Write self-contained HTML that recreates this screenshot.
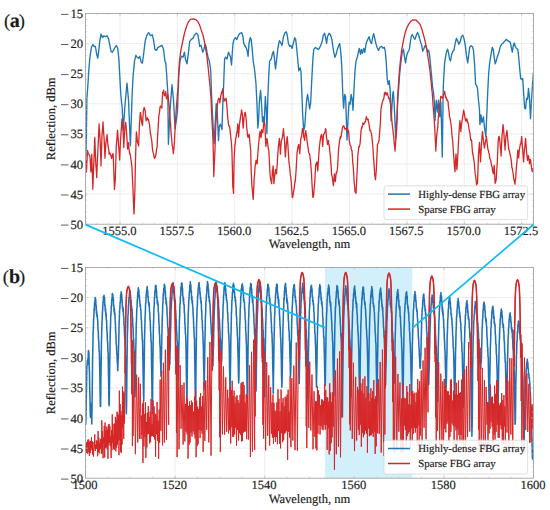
<!DOCTYPE html><html><head><meta charset="utf-8"><style>html,body{margin:0;padding:0;background:#fff;}svg{display:block;}</style></head><body>
<svg width="550" height="510" viewBox="0 0 550 510" font-family='&quot;Liberation Serif&quot;, serif'>
<style>text{stroke:#1a1a1a;stroke-width:0.16px;paint-order:stroke;text-rendering:geometricPrecision;}</style>
<rect width="550" height="510" fill="#fff"/>
<defs><clipPath id="ca"><rect x="85.5" y="13.5" width="448.0" height="210.7"/></clipPath></defs>
<path d="M120 13.5V224.2M177.38 13.5V224.2M234.75 13.5V224.2M292.12 13.5V224.2M349.5 13.5V224.2M406.88 13.5V224.2M464.25 13.5V224.2M521.62 13.5V224.2M85.5 43.6H533.5M85.5 73.7H533.5M85.5 103.8H533.5M85.5 133.9H533.5M85.5 164H533.5M85.5 194.1H533.5" stroke="#e9e9e9" stroke-width="0.8" fill="none"/>
<g clip-path="url(#ca)" fill="none" stroke-linejoin="round" stroke-linecap="round"><polyline points="85.8,158 86.3,140 86.9,98.4 87.9,84.7 88.9,69 89.9,57.3 91.4,47.5 92.8,44.5 94.2,46.5 95.4,46.5 96.7,54.3 97.7,58.2 98.7,51.4 99.7,41.6 101,34.1 102.6,37.6 104,35.7 105.5,36.7 107.1,35.7 108.5,38.6 109.5,43.5 111,51.4 112.4,52.3 113.4,50.4 115,47.5 116.3,45.5 117.7,48.4 118.9,59.2 119.7,74.9 120.8,94.5 122.2,108.2 123.3,130.2 125,105 127,83.1 128.5,100 130.4,145.9 132,98.4 133,76.9 134.5,61.2 135.9,55.3 137.3,57.3 138.8,58.2 139.8,56.3 141.2,62.2 142.4,63.1 143.7,53.3 145.1,41.6 146.7,35.7 148.6,32.7 150.6,35.7 152.2,34.7 153.5,39.6 154.9,49.4 156.5,50.4 158,47.3 160,46.3 161.9,45.3 163.5,49.2 164.9,61 165.8,62.9 166.8,76.7 167.8,92.4 168.4,144.3 170,110 172,84.7 173.5,100 175.1,128.6 177.5,111.4 178.6,76.7 180,61 181.5,56.1 183.1,57.1 184.4,52.2 185.4,59 187,63.9 188.4,53.1 189.7,41.4 191.3,39.4 192.9,38.4 194.2,35.5 196.2,33.1 197.8,34.5 198.7,39.4 199.7,46.3 201.1,45.3 202.7,52.2 204,49.2 205,44.3 206,46.3 207,52.2 208,57.1 209.3,61 210.7,70 211.5,93.5 212.6,117 214.1,143.7 215.1,124.9 216.2,103.7 217,107.6 218.5,140.6 219.3,126.5 220.4,124.1 222,129.6 222.9,101.4 223.6,85.7 224.6,59 225.6,57.1 227,59 228.5,52.2 230.5,57.1 231.5,65 232.5,50 233,43.5 234,39.6 235.5,37.6 236.9,39.6 238.3,35.7 239.8,33.3 241.8,32.7 242.8,35.7 243.8,43.5 244.7,45.5 246.1,47.5 247.3,51.4 248.1,56.3 249,43.5 250.2,37.6 251.2,39.6 252.2,49.4 253.2,61.2 254.6,70 255.9,82.5 257,104.5 257.8,128 258.6,120.2 259.4,101.4 260.6,90.4 261.7,106.1 262.5,121.8 263.4,117 264.2,124 265.3,96.5 266.3,110.2 266.9,133.6 267.8,98.4 268.6,78.8 269.6,61.2 271.2,59.2 272.5,53.3 273.5,51.4 274.5,59.2 275.5,69 276.7,59.2 278,47.5 279.4,40.6 280.6,42.5 282,45.5 283.3,37.6 284.9,32.7 286.3,31.8 287.2,34.7 288.4,43.5 289.8,46.5 290.8,45.5 292.1,48.4 293.3,43.5 294.7,37.6 295.7,39.6 296.6,47.5 297.8,60 298.8,70.8 300.2,67.8 301,71.8 301.8,91.4 302.7,114.9 303.7,130.6 304.7,126.7 305.7,113 306.7,99.2 307.6,94.3 308.6,101.2 309.6,109 310.6,103.1 311.6,83.5 312.5,65.9 313.1,56 313.8,49.4 315.4,47.5 316.8,48.4 318.1,49.4 319.3,48.4 320.7,45.5 322.1,41.6 323.2,35.7 324.6,33.3 325.6,37.6 326.6,43.5 327.5,36.7 329.1,33.3 330.5,34.7 331.9,39.6 333,47.5 334,53.3 335,57.3 336.4,53.3 337.3,49.4 338.7,45.5 339.7,43.5 340.7,51.4 341.7,65.1 342.2,78.8 342.8,94.5 343.6,108.2 344.6,94.5 345.6,96.5 347,140 348.5,110 349.1,102.4 350.1,104.3 351.1,94.5 352,98.4 353,110.2 354,88.6 355,71 356,61.2 357.3,57.3 358.5,51.4 359.3,48.4 360.5,54.3 361.4,49.4 362.4,53.3 363.8,48.4 364.8,52.4 366.1,43.5 367.7,39.6 369.1,36.7 370.3,41.6 371.6,43.5 372.6,37.6 373.6,33.7 374.6,37.6 375.9,43.5 377.1,47.5 378.5,50.4 380,47.3 381.6,46.3 382.9,48.2 384.3,47.3 385.3,51.2 386.3,62.9 387.2,78.6 388.2,84.5 389.2,80.6 390.2,90.4 391.1,120.7 392.7,94.3 393.3,91.4 394.1,102.2 395.7,138.3 397.5,105 399.6,74.7 400.6,64.9 401.5,57.1 402.5,51.2 403.5,49.2 404.5,57.1 405.5,62.9 406.4,57.1 407.4,53.1 408.4,51.2 409.4,49.2 410.4,41.4 411.3,36.5 412.3,34.5 413.7,37.5 414.9,39.4 416.2,35.5 417.6,32.5 418.8,35.5 419.8,39.4 420.7,42.4 421.7,45.3 422.7,51.2 423.7,49.2 424.7,46.3 425.6,45.3 426.6,48.2 427.6,52.2 428.6,50.2 429.6,55.1 430.5,64.9 431.5,74.7 432.5,86.5 433.5,92.4 434.5,104.1 435,120.7 436.3,100.2 437.5,112 438.5,100.2 439.8,116.8 440.9,102 442.3,157 443.2,88.4 443.9,74.7 444.6,62.9 446.2,53.1 447.6,49.2 448.6,53.1 449.5,59 450.5,61 451.5,55.1 452.9,51.2 454,50.2 455,44.3 456.4,38.4 457.5,40.4 458.9,44.3 460.3,41.4 461.5,36.5 462.8,35.1 464.2,39.4 465.4,46.3 466.4,55.1 467.7,62.9 468.7,55.1 469.7,47.3 471.1,45.7 472.6,46.9 473.6,51.2 474.6,64.9 475.6,84.5 476.6,85.5 477.5,88.4 478.5,100.2 479.5,110 479.9,124.6 481,114.8 482,122.6 483.4,116.8 484.4,126.6 485.8,136.4 487,110 487.7,92.4 488.7,72.7 489.7,62.9 490.9,55.1 492.3,47.3 493.2,49.2 494.2,57.1 495.2,63.9 496.2,61 497.2,57.1 498.7,53.1 500.1,47.3 501.5,44.3 503,43.3 504.6,41.4 506,39.4 507.4,40.4 508.9,41.4 510.3,42.4 511.3,47.3 512.3,52.2 513.2,46.3 514.2,42.9 515.2,46.3 516.4,48.2 517.8,49.2 518.7,57.1 519.7,68.8 520.7,78.6 521.7,79.6 522.7,78.6 523.6,92.4 524.6,108 525.6,108.9 526.6,98.2 527.6,99.2 528.5,88.4 529.5,98.2 530.5,118.7 531.5,100.2 532.5,84.5 533.4,72.7" stroke="#1f77b4" stroke-width="1.35"/><polyline points="85.6,159.44 85.6,160 86.4,171.9 86.5,170.69 87.4,153.21 87.5,150.3 88.3,153.76 88.9,154.2 89.2,155.07 89.9,156.2 90.1,158.53 90.9,171.9 91,171.14 91.8,154.2 91.9,158.02 92.8,187.5 92.8,189.35 93.7,165.84 93.8,164 94.6,141.45 94.8,137.5 95.5,157.4 95.8,164 96.4,171.14 96.7,177.7 97.3,162.24 97.7,154.2 98.2,143.78 99.1,123.8 99.1,124.56 100,137.84 100.1,140.5 100.9,161.3 101,166 101.8,141.1 102,134.6 102.7,126.83 103,121.9 103.6,132.69 104,136.6 104.5,146.59 105,158.1 105.4,150.39 105.9,142.5 106.3,140.69 107.1,134.6 107.2,136.92 108.1,146.4 108.1,145.55 109,151.86 109.1,154.2 109.9,152.76 110,153.7 110.8,155.05 111.6,158.4 111.7,158.14 112.6,154.04 113.1,153.7 113.5,162.4 114.4,187.5 114.4,189.36 115.3,179.7 115.3,180.13 116.2,147.35 116.3,145.9 117.1,136.29 117.5,130.2 118,136.06 118.6,145.9 118.9,149.33 119.7,160 119.8,157.65 120.5,139.6 120.7,137.62 121.6,125.42 121.9,119.2 122.5,122.94 122.9,127.1 123.4,136.59 123.8,147.5 124.3,137.03 124.9,127.1 125.2,124.66 125.7,122.4 126.1,125.97 126.5,131.8 127,139.31 127.6,149 127.9,146.61 128.5,142.7 128.8,147.46 129.3,150.6 129.7,153.95 130.1,153.7 130.6,156.95 131,160 131.5,163.4 132,167.9 132.4,178.08 133,189.5 133.3,197.65 134,214 134.2,210.11 134.9,189.5 135.1,179.36 135.5,160 136,142.42 136.4,131.8 136.9,135.95 137.5,142.7 137.8,142.38 138.6,145.9 138.7,143.94 139.5,123.9 139.6,122.89 140.3,112.9 140.5,112.49 141.4,119.2 141.4,120.41 142.3,125.08 142.5,125.5 143.2,112.82 143.3,111.4 144.1,107.69 144.2,107.5 145,110.21 145.3,111.4 145.9,119.18 146.1,120.8 146.8,118.71 147.2,117.6 147.7,119.82 148.5,119.2 148.6,120.28 149.5,124.38 149.6,125.5 150.4,133.54 150.5,133.3 151.3,138.2 151.6,139.6 152.2,145.4 152.4,149 153.1,152.4 153.6,153.7 154,156.99 154.7,158.4 154.9,157.68 155.8,155.3 155.8,155.62 156.7,148.2 157.1,147.5 157.6,135.91 157.9,131.8 158.5,121.39 159,114.5 159.4,113.5 159.9,108.2 160.3,106.08 161,106.7 161.2,106.35 161.8,108.2 162.1,102.94 162.6,92.5 163,93.24 163.7,90.2 163.9,93.26 164.6,95.7 164.8,95.83 165.7,93.3 165.7,91.48 166.5,98.8 166.6,98.2 167.5,96.78 167.8,94.1 168.4,98.45 168.9,103.5 169.3,106.56 170.2,121.58 170.4,122.4 171.1,132.84 172,142.7 172,143.61 172.9,148.98 173.3,153.7 173.8,149.57 174.4,142.7 174.7,135.73 175.6,120.8 175.6,119.8 176.5,104.74 176.7,103.5 177.4,94.84 178.3,86.3 178.3,87.85 178.6,74.7 179.3,63.5 180,56.5 181.1,49.2 182.5,42.3 184.4,33.5 186.4,26.7 188.4,21.8 190.3,19.4 193.3,18.8 196.2,19.8 198.2,22.2 199.5,24.7 201.1,29.6 203.1,35.5 205,44.3 207,57.1 208.5,70.8 209.8,84.51 209.9,84.5 210.7,95.03 211,98 211.6,112.69 212,121.8 212.5,130.07 213,140.6 213.4,156.95 213.8,176.6 214.3,164.31 214.8,154 215.2,143.67 215.8,124.6 216.1,121.1 216.7,113.9 217,108.77 217.8,101.4 217.9,100.24 218.8,98.3 218.9,98.2 219.7,101.08 219.8,102.9 220.6,98.2 220.6,96.63 221.5,93.09 221.7,92 222.4,90.7 222.5,88.8 223.3,95.1 223.3,94.03 224,101.4 224.2,100.7 225.1,99 225.1,100.19 226,98.54 226.1,98.2 226.9,106.1 226.9,106.62 227.6,115.5 227.8,118.31 228.4,123.3 228.7,125.76 229.2,126.5 229.6,126.26 230,129.6 230.5,134.82 230.8,137.5 231.4,142.67 231.9,150 232.3,165.26 232.8,187.4 233.2,189.03 233.5,193.4 234,164 234.1,160.52 234.9,144.4 235,145.32 235.9,137.33 236.1,137.5 236.8,132.23 237.1,132.7 237.7,124.9 237.7,123.92 238.6,135.9 238.6,136.98 239.4,124.9 239.5,124.3 240.4,117.9 240.5,117 241.3,112.55 241.6,110 242.2,113.38 242.4,115.5 243.1,127.6 243.2,128 244,118.19 244.1,117 244.9,112.89 245.2,112.4 245.8,115.7 246.3,120.2 246.7,127.13 247.3,132.7 247.6,135.65 248.1,137.5 248.5,136.56 249.2,134.3 249.4,136.61 249.9,142.2 250.3,146.53 250.7,150 251.2,171.9 251.2,170 252,187.5 252.1,186.82 253,197.93 253.2,199.3 253.9,184.75 254.1,179.7 254.8,171.67 255.1,166 255.7,162.92 256.1,160.1 256.6,163.02 257.1,164 257.5,158.78 258.1,150.3 258.4,146.58 259.3,136.83 259.4,135.9 260.1,131.2 260.2,133.8 260.9,137.5 261.1,137.26 261.7,129.6 262,131.98 262.8,132.7 262.9,132.15 263.8,123.17 264.1,121.8 264.7,123.25 265,126.5 265.6,141.41 265.9,146.4 266.5,140.07 266.9,138.5 267.4,141.2 267.8,144.4 268.3,148.6 268.8,150.3 269.2,156.97 269.8,169.9 270.1,174.76 270.6,179.7 271,180.21 271.6,183.6 271.9,180.17 272.5,169.9 272.8,168.8 273.1,166 273.7,178.34 273.9,183.6 274.6,176.12 274.7,175.8 275.5,169.9 275.5,169.35 276.4,173.72 276.5,173.8 277.3,163.25 277.4,160.1 278.2,149.32 278.4,146.4 279.1,140.54 279.4,138.5 280,147.48 280.4,154.2 280.9,146.05 281.4,140.5 281.8,139.76 282.5,136.6 282.7,135 283.5,128.7 283.6,131.46 284.5,140.5 284.5,140.56 285.3,156.2 285.4,156.84 286.3,144.4 286.3,144.16 287.2,136.6 287.2,136.66 288.1,147.66 288.2,150.3 289,162.42 289.2,164 289.9,168.97 290.2,173.8 290.8,177.26 291.2,181.7 291.7,188.1 292.3,197.4 292.6,197.56 293.3,193.4 293.5,192.66 294.3,187.5 294.4,185.95 295.3,179.7 295.3,181.36 296.2,168.7 296.3,166 296.9,156 297.1,152.12 297.5,150 298,146.78 298.8,144.3 298.9,145.88 299.8,153.68 299.8,152.2 300.7,140.75 300.8,138.4 301.6,136.82 301.8,134.5 302.5,128.41 302.7,128.6 303.4,132.16 303.7,136.5 304.3,138.6 304.7,140.4 305.2,133.75 305.7,130.6 306.1,133.61 306.7,136.5 307,140.76 307.6,144.3 307.9,146.35 308.6,152.2 308.8,152.9 309.6,154.1 309.7,154.57 310.6,161.91 310.9,166 311.5,173.89 311.9,181.7 312.4,190.41 312.9,197.4 313.3,197.24 313.8,193.4 314.2,188.18 314.8,181.7 315.1,174.93 315.8,164 316,164.94 316.8,162.1 316.9,161.93 317.8,170.97 317.8,169.9 318.7,156.81 318.7,156.2 319.6,144.82 319.7,144.4 320.5,138.21 320.7,136.6 321.4,134.68 321.7,134.6 322.3,140.18 322.7,146.4 323.2,138.74 323.6,134.6 324.1,133.89 324.6,132.6 325,132.16 325.6,128.7 325.9,130 326.6,138.5 326.8,138.61 327.5,144.4 327.7,141.67 328.5,140.5 328.6,143.22 329.5,146.73 329.5,148.3 330.4,156.64 330.5,158.1 331.3,168.88 331.5,173.8 332.2,176.84 332.4,177.7 333.1,183.76 333.4,185.6 334,178.62 334.4,173.8 334.9,178.46 335.4,181.7 335.8,176.64 336.4,171.9 336.7,172.89 337.3,169.9 337.6,166.26 338.3,154.2 338.5,150.62 339.3,142.5 339.4,141.91 340.3,136.58 340.3,138.5 341.2,136.31 341.3,134.6 342.1,130.94 342.2,128.7 343,126.48 343.2,125.8 343.9,125.94 344.2,126.8 344.8,129.14 345.2,128.7 345.7,128.62 346.2,129.7 346.6,127.58 347.5,129.36 347.5,128.7 348.4,131.25 348.7,132.6 349.3,140.49 349.9,144.4 350.2,145.43 351.1,146.76 351.1,148.3 352,151.44 352,150.3 352.9,164.47 353,164 353.8,175.04 354,179.7 354.7,187.24 355,191.5 355.6,192.58 356,193.4 356.5,184.45 356.9,175.8 357.4,165.81 357.9,154.2 358.3,151.58 358.9,146.4 359.2,147.26 359.9,144.4 360.1,143.17 360.8,134.6 361,131.13 361.8,126.8 361.9,128.28 362.8,124.11 362.8,122.8 363.7,124.4 363.8,123.8 364.6,123.42 364.8,121.9 365.5,121.65 365.7,119.9 366.4,116.7 366.7,117.9 367.3,119.57 368.2,119.28 368.3,120.9 369.1,124.39 369.7,128.7 370,130.65 370.6,130.7 370.9,132.06 371.6,134.6 371.8,135.76 372.6,144.4 372.7,144.54 373.6,158.01 373.6,158.1 374.5,170.65 374.6,173.8 375.4,178.58 375.5,179.7 376.3,170.17 376.5,166 377.2,150.36 377.5,144.4 378.1,143.33 378.5,142.5 379,140.35 379.5,134.6 379.9,128.81 380.4,122.8 380.8,112.65 381,108.9 381.7,105.36 382.6,101.13 382.9,100.2 383.5,99.94 384.3,95.3 384.4,93.19 385.3,92.24 385.5,93.3 386.2,94.93 386.9,94.3 387.1,92.62 388,95.74 388.2,96.3 388.9,98.79 389.8,98.43 389.8,100.2 390.7,104.78 390.8,106.1 391.6,116.9 391.8,120.7 392.5,126.53 393.4,134.41 393.7,136.4 394.3,143.75 395.1,151.1 395.2,148.1 396.1,136.16 396.3,134.4 397,123.22 397.2,118.7 397.6,96.3 397.9,93.65 398.6,82.5 398.8,79.05 399.6,68.8 400.6,59 401.5,51.2 402.5,45.3 403.5,40.4 404.5,35.5 405.5,31.6 407,27.6 408.4,24.7 410.4,21.8 412.3,20.2 414.3,19.8 416.2,20.2 418.2,22.2 420.2,24.7 421.7,28.6 423.1,33.5 424.7,39.4 426,45.3 427.4,53.1 428.6,61 430,70.8 430.9,80.6 431.2,81.77 431.9,90.4 432.1,91.31 432.9,102.2 433,104.77 433.9,114.73 434.5,124.6 434.8,129.57 435.7,147.82 435.8,151.1 436.6,137.4 436.8,134.4 437.5,129.51 437.8,126.6 438.4,116.87 438.8,112.8 439.3,107.85 439.7,104.1 440.2,101.91 440.7,96.3 441.1,96.76 442,97.8 442.3,98.2 442.9,97.46 443.7,94.3 443.8,94.2 444.6,91.4 444.7,91.66 445.6,97.67 445.6,96.3 446.5,98.37 446.6,100.2 447.4,100.02 448.2,102.2 448.3,105.28 449.2,112.49 449.5,116.8 450.1,118.62 451,124.23 451.5,128.5 451.9,134.76 452.8,141.82 452.9,144.2 453.7,155.75 454,159.9 454.6,167.92 455,171.7 455.5,160.95 456,154 456.4,160.11 456.9,169.7 457.3,164.36 457.9,154 458.2,147.22 458.9,134.4 459.1,131.08 459.9,120.7 460,121.92 460.9,131.71 460.9,130.5 461.8,121.86 461.8,122.6 462.7,116.03 462.8,116.8 463.6,110.19 463.8,110.9 464.5,114.13 464.8,116.8 465.4,119.81 465.8,120.7 466.3,121.35 466.8,118.7 467.2,120.45 467.7,122.6 468.1,122.79 468.7,126.6 469,128.85 469.7,132.5 469.9,132.45 470.7,140.3 470.8,139.02 471.7,140.86 471.7,142.3 472.6,153.81 472.6,152.1 473.5,157.8 473.6,157.9 474.4,163.77 474.6,167.7 475.3,174.95 475.6,175.6 476.2,181.04 476.6,185.4 477.1,182.95 477.5,183.4 478,169.41 478.5,154 478.9,149.37 479.5,142.3 479.8,148.69 480.5,161.9 480.7,158.12 481.5,144.2 481.6,141.78 482.4,132.5 482.5,131.3 483.4,140.94 483.4,140.3 484.3,147.25 484.4,148.1 485.2,143.17 485.4,142.3 486.1,138.65 486.4,136.4 487,141.6 487.3,144.2 487.9,149.41 488.3,150.1 488.8,152.97 489.3,154 489.7,158.07 490.3,159.9 490.6,160 491.3,163.8 491.5,165.07 492.3,167.7 492.4,169.98 493.2,173.6 493.3,173.89 494.2,165.36 494.2,165.8 495.1,182.6 495.2,183.4 496,180.62 496.2,179.5 496.9,167.7 497.2,163.8 497.8,150.42 498.1,142.3 498.7,137.16 499.1,136.4 499.6,138.69 500.1,144.2 500.5,147.7 501.1,156 501.4,148.12 502.1,134.4 502.3,133.71 503,124.6 503.2,125.48 504,134.4 504.1,137.86 505,148.28 505,150.1 505.9,136.07 506,136.4 506.8,131.36 507,130.5 507.7,138.61 507.9,140.3 508.6,147.69 508.9,150.1 509.5,150.89 509.9,154 510.4,156.07 510.9,157.9 511.3,160.55 511.9,167.7 512.2,168 512.8,171.7 513.1,173.03 513.8,179.5 514,179.36 514.8,183.4 514.9,184.09 515.8,176.81 515.8,175.6 516.7,163.6 516.8,163.8 517.6,153.58 517.8,150.1 518.5,155.09 518.7,157.9 519.4,149.11 519.7,148.1 520.3,144.02 520.7,144.2 521.2,141.31 521.7,136.4 522.1,142.59 522.7,150.1 523,154.15 523.6,161.9 523.9,156.28 524.6,148.1 524.8,147.34 525.6,138.3 525.7,139.72 526.6,152.4 526.6,152.1 527.5,160.39 527.6,159.9 528.4,155.64 528.5,156 529.3,161.49 529.5,163.8 530.2,159.48 530.5,159.9 531.1,163.92 531.5,167.7 532,170.95 532.5,171.7 532.9,168.69" stroke="#d62728" stroke-width="1.3"/></g>
<path d="M85.58 13.5v1.6M85.58 224.2v-1.6M97.05 13.5v1.6M97.05 224.2v-1.6M108.53 13.5v1.6M108.53 224.2v-1.6M120 13.5v1.6M120 224.2v-1.6M131.47 13.5v1.6M131.47 224.2v-1.6M142.95 13.5v1.6M142.95 224.2v-1.6M154.43 13.5v1.6M154.43 224.2v-1.6M165.9 13.5v1.6M165.9 224.2v-1.6M177.38 13.5v1.6M177.38 224.2v-1.6M188.85 13.5v1.6M188.85 224.2v-1.6M200.32 13.5v1.6M200.32 224.2v-1.6M211.8 13.5v1.6M211.8 224.2v-1.6M223.27 13.5v1.6M223.27 224.2v-1.6M234.75 13.5v1.6M234.75 224.2v-1.6M246.22 13.5v1.6M246.22 224.2v-1.6M257.7 13.5v1.6M257.7 224.2v-1.6M269.17 13.5v1.6M269.17 224.2v-1.6M280.65 13.5v1.6M280.65 224.2v-1.6M292.12 13.5v1.6M292.12 224.2v-1.6M303.6 13.5v1.6M303.6 224.2v-1.6M315.07 13.5v1.6M315.07 224.2v-1.6M326.55 13.5v1.6M326.55 224.2v-1.6M338.02 13.5v1.6M338.02 224.2v-1.6M349.5 13.5v1.6M349.5 224.2v-1.6M360.98 13.5v1.6M360.98 224.2v-1.6M372.45 13.5v1.6M372.45 224.2v-1.6M383.93 13.5v1.6M383.93 224.2v-1.6M395.4 13.5v1.6M395.4 224.2v-1.6M406.88 13.5v1.6M406.88 224.2v-1.6M418.35 13.5v1.6M418.35 224.2v-1.6M429.82 13.5v1.6M429.82 224.2v-1.6M441.3 13.5v1.6M441.3 224.2v-1.6M452.77 13.5v1.6M452.77 224.2v-1.6M464.25 13.5v1.6M464.25 224.2v-1.6M475.72 13.5v1.6M475.72 224.2v-1.6M487.2 13.5v1.6M487.2 224.2v-1.6M498.68 13.5v1.6M498.68 224.2v-1.6M510.15 13.5v1.6M510.15 224.2v-1.6M521.62 13.5v1.6M521.62 224.2v-1.6M533.1 13.5v1.6M533.1 224.2v-1.6M120 13.5v2.6M120 224.2v-2.6M177.38 13.5v2.6M177.38 224.2v-2.6M234.75 13.5v2.6M234.75 224.2v-2.6M292.12 13.5v2.6M292.12 224.2v-2.6M349.5 13.5v2.6M349.5 224.2v-2.6M406.88 13.5v2.6M406.88 224.2v-2.6M464.25 13.5v2.6M464.25 224.2v-2.6M521.62 13.5v2.6M521.62 224.2v-2.6M85.5 19.52h1.6M533.5 19.52h-1.6M85.5 25.54h1.6M533.5 25.54h-1.6M85.5 31.56h1.6M533.5 31.56h-1.6M85.5 37.58h1.6M533.5 37.58h-1.6M85.5 43.6h2.6M533.5 43.6h-2.6M85.5 49.62h1.6M533.5 49.62h-1.6M85.5 55.64h1.6M533.5 55.64h-1.6M85.5 61.66h1.6M533.5 61.66h-1.6M85.5 67.68h1.6M533.5 67.68h-1.6M85.5 73.7h2.6M533.5 73.7h-2.6M85.5 79.72h1.6M533.5 79.72h-1.6M85.5 85.74h1.6M533.5 85.74h-1.6M85.5 91.76h1.6M533.5 91.76h-1.6M85.5 97.78h1.6M533.5 97.78h-1.6M85.5 103.8h2.6M533.5 103.8h-2.6M85.5 109.82h1.6M533.5 109.82h-1.6M85.5 115.84h1.6M533.5 115.84h-1.6M85.5 121.86h1.6M533.5 121.86h-1.6M85.5 127.88h1.6M533.5 127.88h-1.6M85.5 133.9h2.6M533.5 133.9h-2.6M85.5 139.92h1.6M533.5 139.92h-1.6M85.5 145.94h1.6M533.5 145.94h-1.6M85.5 151.96h1.6M533.5 151.96h-1.6M85.5 157.98h1.6M533.5 157.98h-1.6M85.5 164h2.6M533.5 164h-2.6M85.5 170.02h1.6M533.5 170.02h-1.6M85.5 176.04h1.6M533.5 176.04h-1.6M85.5 182.06h1.6M533.5 182.06h-1.6M85.5 188.08h1.6M533.5 188.08h-1.6M85.5 194.1h2.6M533.5 194.1h-2.6M85.5 200.12h1.6M533.5 200.12h-1.6M85.5 206.14h1.6M533.5 206.14h-1.6M85.5 212.16h1.6M533.5 212.16h-1.6M85.5 218.18h1.6M533.5 218.18h-1.6" stroke="#c4c4c4" stroke-width="0.6" fill="none"/>
<rect x="85.5" y="13.5" width="448.0" height="210.7" fill="none" stroke="#a4a4a4" stroke-width="0.9"/>
<text x="83.2" y="18" text-anchor="end" font-size="12.7" fill="#1a1a1a">15</text>
<path d="M61 14.4H68.4" stroke="#1a1a1a" stroke-width="0.7"/>
<text x="83.2" y="48.1" text-anchor="end" font-size="12.7" fill="#1a1a1a">20</text>
<path d="M61 44.5H68.4" stroke="#1a1a1a" stroke-width="0.7"/>
<text x="83.2" y="78.2" text-anchor="end" font-size="12.7" fill="#1a1a1a">25</text>
<path d="M61 74.6H68.4" stroke="#1a1a1a" stroke-width="0.7"/>
<text x="83.2" y="108.3" text-anchor="end" font-size="12.7" fill="#1a1a1a">30</text>
<path d="M61 104.7H68.4" stroke="#1a1a1a" stroke-width="0.7"/>
<text x="83.2" y="138.4" text-anchor="end" font-size="12.7" fill="#1a1a1a">35</text>
<path d="M61 134.8H68.4" stroke="#1a1a1a" stroke-width="0.7"/>
<text x="83.2" y="168.5" text-anchor="end" font-size="12.7" fill="#1a1a1a">40</text>
<path d="M61 164.9H68.4" stroke="#1a1a1a" stroke-width="0.7"/>
<text x="83.2" y="198.6" text-anchor="end" font-size="12.7" fill="#1a1a1a">45</text>
<path d="M61 195H68.4" stroke="#1a1a1a" stroke-width="0.7"/>
<text x="83.2" y="228.7" text-anchor="end" font-size="12.7" fill="#1a1a1a">50</text>
<path d="M61 225.1H68.4" stroke="#1a1a1a" stroke-width="0.7"/>
<text x="119.4" y="235.2" text-anchor="middle" font-size="12.5" fill="#1a1a1a">1555.0</text>
<text x="176.78" y="235.2" text-anchor="middle" font-size="12.5" fill="#1a1a1a">1557.5</text>
<text x="234.15" y="235.2" text-anchor="middle" font-size="12.5" fill="#1a1a1a">1560.0</text>
<text x="291.52" y="235.2" text-anchor="middle" font-size="12.5" fill="#1a1a1a">1562.5</text>
<text x="348.9" y="235.2" text-anchor="middle" font-size="12.5" fill="#1a1a1a">1565.0</text>
<text x="406.27" y="235.2" text-anchor="middle" font-size="12.5" fill="#1a1a1a">1567.5</text>
<text x="463.65" y="235.2" text-anchor="middle" font-size="12.5" fill="#1a1a1a">1570.0</text>
<text x="521.02" y="235.2" text-anchor="middle" font-size="12.5" fill="#1a1a1a">1572.5</text>
<text x="309.5" y="248" text-anchor="middle" font-size="12.5" fill="#1a1a1a">Wavelength, nm</text>
<text transform="translate(55.2 118.85) rotate(-90)" text-anchor="middle" font-size="12.5" fill="#1a1a1a">Reflection, dBm</text>
<rect x="384.0" y="185.8" width="143.60000000000002" height="33.8" rx="2.5" fill="#fff" fill-opacity="0.88" stroke="#d6d6d6" stroke-width="0.8"/>
<path d="M388 194.1H410" stroke="#1f77b4" stroke-width="1.5"/>
<path d="M388 209.1H410" stroke="#d62728" stroke-width="1.5"/>
<text x="418.3" y="197.7" font-size="10.8" fill="#1a1a1a">Highly-dense FBG array</text>
<text x="418.3" y="212.7" font-size="10.8" fill="#1a1a1a">Sparse FBG array</text>
<defs><clipPath id="cb"><rect x="85.5" y="267.5" width="448.0" height="210.7"/></clipPath></defs>
<rect x="324.9" y="267.5" width="87.40000000000003" height="210.7" fill="#d2f0fc"/>
<path d="M175.1 267.5V478.2M264.7 267.5V478.2M354.3 267.5V478.2M443.9 267.5V478.2M85.5 297.6H533.5M85.5 327.7H533.5M85.5 357.8H533.5M85.5 387.9H533.5M85.5 418H533.5M85.5 448.1H533.5" stroke="#e9e9e9" stroke-width="0.8" fill="none"/>
<g clip-path="url(#cb)" fill="none" stroke-linejoin="round"><polyline points="85.8,424.83 86.06,413.42 86.32,396.42 86.58,386.3 86.84,367.38 87.1,364.23 87.36,360.27 87.62,364.54 87.88,358.13 88.14,357.99 88.4,350.6 88.66,351.09 88.92,352.45 89.18,367.23 89.44,371.84 89.7,388.57 89.96,397.76 90.22,413.53 90.48,417.12 90.74,414.95 91,404.03 91.26,409 91.52,413.31 91.78,424.09 92.04,405.51 92.3,385.78 92.56,360.23 92.82,348.16 93.08,332.54 93.34,329.51 93.6,318.13 93.86,316.93 94.12,308.57 94.38,310.26 94.64,301.76 94.9,304.86 95.16,297.58 95.42,301.2 95.68,299.02 95.94,305.67 96.2,305.43 96.46,313.35 96.72,311.63 96.98,316.62 97.24,314.48 97.5,319.18 97.76,321.16 98.02,330.16 98.28,330.97 98.54,340.4 98.8,341.25 99.06,351.33 99.32,350.92 99.58,362.31 99.84,374.73 100.1,393.73 100.36,406.5 100.62,406.21 100.88,381.3 101.14,365.45 101.4,343.01 101.66,334.59 101.92,323.87 102.18,320.04 102.44,311.5 102.7,309.78 102.96,302.66 103.22,302.42 103.48,296.59 103.74,300.04 104,295.32 104.26,299.89 104.52,297.32 104.78,306.01 105.04,304.94 105.3,311.12 105.56,308.79 105.82,315.72 106.08,312.95 106.34,320.01 106.6,320.48 106.86,330.65 107.12,332.16 107.38,341.18 107.64,341.45 107.9,350.84 108.16,353.12 108.42,370.77 108.68,383.81 108.94,403.88 109.2,405.63 109.46,387.19 109.72,364.24 109.98,348.62 110.24,332.78 110.5,326.65 110.76,315.54 111.02,314.78 111.28,305.99 111.54,305.36 111.8,298.95 112.06,300.26 112.32,293.42 112.58,297.49 112.84,294.64 113.1,298.66 113.36,298.23 113.62,307.04 113.88,305.75 114.14,312.31 114.4,308.42 114.66,314.7 114.92,312.9 115.18,321.32 115.44,323.79 115.7,332.2 115.96,335.01 116.22,344.34 116.48,345.28 116.74,353.29 117,354.63 117.26,362.06 117.52,363.48 117.78,370.72 118.04,360.88 118.3,358.35 118.56,347.7 118.82,338.14 119.08,324.88 119.34,319.28 119.6,310.47 119.86,308.87 120.12,302.21 120.38,302.77 120.64,294.43 120.9,296.4 121.16,291.77 121.42,295.63 121.68,293.95 121.94,300.19 122.2,299.98 122.46,308.22 122.72,306.3 122.98,311.65 123.24,308.58 123.5,315.58 123.76,316.79 124.02,325.02 124.28,325.11 124.54,335.63 124.8,337.4 125.06,346.02 125.32,346.02 125.58,363.69 125.84,378.24 126.1,400.9 126.36,413.73 126.62,401.77 126.88,373.94 127.14,353.2 127.4,333.99 127.66,328.8 127.92,315.77 128.18,313.96 128.44,305.08 128.7,304.1 128.96,297.51 129.22,297.82 129.48,292.75 129.74,294.83 130,290.17 130.26,295.45 130.52,295.01 130.78,301.66 131.04,300.12 131.3,308.09 131.56,305.81 131.82,311.15 132.08,308.96 132.34,317.54 132.6,317.5 132.86,326.42 133.12,328.38 133.38,338.05 133.64,339.33 133.9,348.19 134.16,351.94 134.42,370.26 134.68,378.79 134.94,396.8 135.2,388.13 135.46,373.62 135.72,351.24 135.98,340.34 136.24,324.36 136.5,320.86 136.76,309.78 137.02,307.81 137.28,299.97 137.54,298.92 137.8,291.83 138.06,294.53 138.32,287.84 138.58,292.02 138.84,289.81 139.1,296.56 139.36,295.59 139.62,301.14 139.88,301.12 140.14,306.77 140.4,304.78 140.66,310.56 140.92,310.39 141.18,319.48 141.44,319.57 141.7,328.88 141.96,331.71 142.22,339.28 142.48,339.64 142.74,350.8 143,363.52 143.26,382.14 143.52,394.1 143.78,400.73 144.04,376.12 144.3,359.04 144.56,336.84 144.82,328.47 145.08,317.3 145.34,313.18 145.6,303.59 145.86,303.19 146.12,295.11 146.38,294.6 146.64,290.08 146.9,290.61 147.16,286.6 147.42,290.42 147.68,290.2 147.94,297.26 148.2,296.59 148.46,303.09 148.72,301.96 148.98,305.84 149.24,303.33 149.5,312.11 149.76,312.07 150.02,319.83 150.28,321.36 150.54,330.82 150.8,333.39 151.06,341.88 151.32,341.78 151.58,365.56 151.84,380.16 152.1,404.21 152.36,413.6 152.62,393.4 152.88,362.33 153.14,343.67 153.4,326.55 153.66,320.06 153.92,308.45 154.18,306.73 154.44,297.27 154.7,297.71 154.96,290.37 155.22,291.66 155.48,285.62 155.74,287.66 156,285.48 156.26,290.07 156.52,290.62 156.78,298.11 157.04,297.1 157.3,303.93 157.56,300.5 157.82,304.86 158.08,303.91 158.34,312.23 158.6,313.35 158.86,322.37 159.12,324.58 159.38,333.61 159.64,335.47 159.9,344.73 160.16,347.22 160.42,359.89 160.68,363.83 160.94,376.19 161.2,362.99 161.46,357.25 161.72,341.95 161.98,331.85 162.24,317.9 162.5,313.71 162.76,303.96 163.02,301.83 163.28,293.56 163.54,294.96 163.8,288.25 164.06,290.23 164.32,284.35 164.58,288.63 164.84,285.63 165.1,291.48 165.36,290.98 165.62,299.47 165.88,297.45 166.14,304.12 166.4,301.11 166.66,305.79 166.92,307.9 167.18,315.88 167.44,317.44 167.7,326.29 167.96,328.22 168.22,336.48 168.48,338.81 168.74,347.48 169,351.25 169.26,361.88 169.52,364.58 169.78,364.79 170.04,351.91 170.3,347.06 170.56,331.04 170.82,322.78 171.08,309.79 171.34,307.33 171.6,298.23 171.86,299.25 172.12,291.29 172.38,292.4 172.64,285.37 172.9,287.74 173.16,282.86 173.42,288.63 173.68,286.72 173.94,293.75 174.2,292.83 174.46,301.16 174.72,299.07 174.98,303.67 175.24,300.42 175.5,310.24 175.76,310.44 176.02,319.18 176.28,321.3 176.54,331.42 176.8,332.38 177.06,341.02 177.32,341.77 177.58,357.02 177.84,365.29 178.1,380.59 178.36,375.82 178.62,366.8 178.88,346.38 179.14,336.78 179.4,321.07 179.66,316.16 179.92,304.41 180.18,303.7 180.44,295.89 180.7,295.66 180.96,286.93 181.22,290.46 181.48,282.92 181.74,287.37 182,283.15 182.26,289.01 182.52,288.32 182.78,295.98 183.04,296.36 183.3,301.65 183.56,298.23 183.82,304.68 184.08,304.51 184.34,312.57 184.6,313.08 184.86,323.98 185.12,325.6 185.38,333.46 185.64,335.07 185.9,342.89 186.16,356.48 186.42,377.04 186.68,391.2 186.94,405.28 187.2,377.62 187.46,359.32 187.72,336.69 187.98,326.21 188.24,313.46 188.5,309.29 188.76,300.76 189.02,299.1 189.28,292.51 189.54,292.94 189.8,285.28 190.06,287.61 190.32,281.65 190.58,287.33 190.84,284.88 191.1,291.71 191.36,291.39 191.62,299.74 191.88,296.52 192.14,303.08 192.4,300.64 192.66,306.64 192.92,307.72 193.18,315.33 193.44,317.96 193.7,326.21 193.96,329.16 194.22,337.87 194.48,337.66 194.74,358.03 195,373.45 195.26,395.2 195.52,412.54 195.78,390.83 196.04,364.16 196.3,343.77 196.56,324.4 196.82,318.54 197.08,307.62 197.34,305.9 197.6,295.81 197.86,295.97 198.12,288.78 198.38,289.16 198.64,283.74 198.9,286.49 199.16,282.59 199.42,288.77 199.68,287.78 199.94,294.31 200.2,292.58 200.46,299.59 200.72,297.79 200.98,303.33 201.24,301.58 201.5,310.85 201.76,310.72 202.02,319.96 202.28,320.69 202.54,329.89 202.8,331.07 203.06,339.7 203.32,346.14 203.58,362.95 203.84,372.59 204.1,389.14 204.36,377.14 204.62,363.39 204.88,341.84 205.14,333.2 205.4,317 205.66,313.86 205.92,301.47 206.18,300.81 206.44,294.02 206.7,293.73 206.96,286.56 207.22,287.26 207.48,281.55 207.74,287.21 208,283.79 208.26,290.44 208.52,289.08 208.78,297.68 209.04,296.21 209.3,301.59 209.56,299.45 209.82,303.6 210.08,304.87 210.34,312.99 210.6,315.87 210.86,323.97 211.12,325.26 211.38,334.24 211.64,334.76 211.9,345.47 212.16,348.36 212.42,361.07 212.68,365.05 212.94,366.05 213.2,352.25 213.46,348.19 213.72,332.54 213.98,323.66 214.24,312.04 214.5,306.65 214.76,299.26 215.02,297.63 215.28,290.77 215.54,291.69 215.8,285.03 216.06,286.21 216.32,282.53 216.58,286.49 216.84,286.65 217.1,292.58 217.36,292.15 217.62,299 217.88,297.55 218.14,301.74 218.4,299.69 218.66,307.62 218.92,309.37 219.18,317.63 219.44,319.79 219.7,328.1 219.96,330.6 220.22,339.04 220.48,339.89 220.74,351.04 221,353.15 221.26,363.12 221.52,361.91 221.78,358.09 222.04,344.23 222.3,338.03 222.56,320.69 222.82,317.67 223.08,305.26 223.34,303.53 223.6,294.84 223.86,294.85 224.12,287.07 224.38,289.75 224.64,282.86 224.9,285.6 225.16,283.32 225.42,288.3 225.68,288.58 225.94,295.89 226.2,293.96 226.46,300.27 226.72,299.4 226.98,302.81 227.24,303.08 227.5,312.2 227.76,313.15 228.02,321.89 228.28,323.44 228.54,333.45 228.8,334.26 229.06,341.17 229.32,351.18 229.58,369.17 229.84,380.84 230.1,397.72 230.36,374.36 230.62,359.3 230.88,338.03 231.14,329.08 231.4,314.12 231.66,309.69 231.92,300.34 232.18,298.99 232.44,292.03 232.7,292.91 232.96,284.99 233.22,288.32 233.48,283.22 233.74,287.37 234,285.18 234.26,292.18 234.52,291.79 234.78,297.78 235.04,296.5 235.3,301.43 235.56,299.29 235.82,306.29 236.08,306.19 236.34,316.12 236.6,317.05 236.86,325.48 237.12,328.28 237.38,336.24 237.64,338.23 237.9,350.97 238.16,359.69 238.42,374.21 238.68,382.9 238.94,377.52 239.2,357.85 239.46,345.27 239.72,327.09 239.98,321.13 240.24,309.31 240.5,306.06 240.76,296.44 241.02,296.21 241.28,288.69 241.54,290.52 241.8,285.32 242.06,287.39 242.32,283.74 242.58,288.13 242.84,286.79 243.1,293.49 243.36,292.74 243.62,300.99 243.88,298.74 244.14,302.57 244.4,301.89 244.66,309.76 244.92,311.08 245.18,319.71 245.44,320.49 245.7,331.33 245.96,332.39 246.22,339.86 246.48,346.02 246.74,366.64 247,380.55 247.26,401.94 247.52,391.45 247.78,373.46 248.04,348.25 248.3,334.71 248.56,319.7 248.82,315 249.08,303.75 249.34,303.26 249.6,293.63 249.86,294.03 250.12,287.6 250.38,289.69 250.64,283.25 250.9,285.48 251.16,283.89 251.42,290.02 251.68,288.88 251.94,297.3 252.2,295.42 252.46,302.16 252.72,298.32 252.98,304.01 253.24,305.06 253.5,312.43 253.76,313.79 254.02,323.21 254.28,325.37 254.54,334.53 254.8,334.67 255.06,345.24 255.32,356.59 255.58,373.9 255.84,385.97 256.1,391.07 256.36,368.98 256.62,353.9 256.88,333.36 257.14,325.06 257.4,313.34 257.66,309.55 257.92,300.63 258.18,298.9 258.44,290.82 258.7,291.48 258.96,285.34 259.22,287.04 259.48,282.39 259.74,288.27 260,286.44 260.26,292.52 260.52,292.2 260.78,299.84 261.04,298.46 261.3,302.82 261.56,299.41 261.82,307.39 262.08,307.98 262.34,316.82 262.6,319.07 262.86,328.39 263.12,329.53 263.38,338.83 263.64,338.56 263.9,358.21 264.16,368.7 264.42,390.1 264.68,396.8 264.94,381.17 265.2,356.65 265.46,341.15 265.72,324.85 265.98,319.49 266.24,306.58 266.5,304.27 266.76,296.24 267.02,295.75 267.28,289.41 267.54,290.53 267.8,284.34 268.06,286.04 268.32,284.85 268.58,289.52 268.84,287.8 269.1,296.27 269.36,295.46 269.62,301.72 269.88,298.55 270.14,305.07 270.4,303 270.66,312.42 270.92,312.88 271.18,321.27 271.44,323.84 271.7,333.26 271.96,332.78 272.22,342.17 272.48,348.55 272.74,365.35 273,375.77 273.26,393.27 273.52,375.49 273.78,361.62 274.04,341.13 274.3,331.8 274.56,316.84 274.82,313.4 275.08,302.74 275.34,302.24 275.6,293.71 275.86,294.95 276.12,287.3 276.38,289.63 276.64,284.12 276.9,286.78 277.16,284.4 277.42,291.61 277.68,292.12 277.94,298.76 278.2,296.64 278.46,303.4 278.72,299.25 278.98,306.95 279.24,306.94 279.5,314.92 279.76,317.83 280.02,325.8 280.28,327.54 280.54,337.5 280.8,338.5 281.06,350.69 281.32,358.72 281.58,377.02 281.84,387.14 282.1,382.29 282.36,361.91 282.62,349.72 282.88,331.15 283.14,322.82 283.4,312.06 283.66,309 283.92,298.26 284.18,299.83 284.44,290.62 284.7,291.58 284.96,285.21 285.22,287.4 285.48,283.25 285.74,288.53 286,287.69 286.26,295.31 286.52,294.19 286.78,302.2 287.04,298.61 287.3,303.67 287.56,302.06 287.82,308.84 288.08,310.55 288.34,320.51 288.6,321.91 288.86,330.66 289.12,330.84 289.38,340.27 289.64,341.61 289.9,357.08 290.16,362.55 290.42,377.04 290.68,373.78 290.94,364.06 291.2,346.82 291.46,337.58 291.72,322.28 291.98,316.11 292.24,306.15 292.5,303.73 292.76,295.33 293.02,296.18 293.28,288.66 293.54,290.1 293.8,285.19 294.06,287.5 294.32,284.52 294.58,290.2 294.84,290.25 295.1,297.67 295.36,295.92 295.62,302.16 295.88,300.32 296.14,305.52 296.4,305.86 296.66,313.98 296.92,313.84 297.18,323.73 297.44,325.79 297.7,334.1 297.96,335.68 298.22,345.37 298.48,351.25 298.74,365.55 299,373.9 299.26,383.51 299.52,364.64 299.78,355.27 300.04,337.62 300.3,328.57 300.56,316.12 300.82,312 301.08,301.83 301.34,300.59 301.6,292.83 301.86,293.19 302.12,287.96 302.38,288.81 302.64,283.23 302.9,287.97 303.16,286.56 303.42,292.96 303.68,292.79 303.94,299.47 304.2,298.06 304.46,304.81 304.72,301.75 304.98,307.85 305.24,308.76 305.5,318.22 305.76,320.19 306.02,329 306.28,329.46 306.54,339.38 306.8,339.7 307.06,356.8 307.32,367.06 307.58,385.82 307.84,398.5 308.1,383.5 308.36,360.08 308.62,345.54 308.88,326.91 309.14,320.7 309.4,309.46 309.66,307.65 309.92,298.18 310.18,297.81 310.44,289.93 310.7,291.67 310.96,286.45 311.22,288.17 311.48,285.18 311.74,289.75 312,288.76 312.26,296.85 312.52,295.95 312.78,301.75 313.04,299.96 313.3,304.98 313.56,303.51 313.82,311.47 314.08,312.26 314.34,321.51 314.6,324.65 314.86,333.47 315.12,333.47 315.38,342.07 315.64,348 315.9,363.28 316.16,370.45 316.42,387.04 316.68,375.1 316.94,363.36 317.2,344.19 317.46,334.57 317.72,319.75 317.98,315.59 318.24,304.48 318.5,302.76 318.76,295.71 319.02,296.78 319.28,287.87 319.54,290.63 319.8,284.54 320.06,287.78 320.32,286.37 320.58,293.34 320.84,292.41 321.1,300.11 321.36,297.72 321.62,304.13 321.88,301.45 322.14,305.6 322.4,307.67 322.66,316.38 322.92,317.36 323.18,327.2 323.44,328.7 323.7,337.71 323.96,337.08 324.22,349.49 324.48,358.64 324.74,374.43 325,385.38 325.26,385.18 325.52,365.2 325.78,353.1 326.04,333.7 326.3,325.22 326.56,313.94 326.82,310.85 327.08,299.99 327.34,299.83 327.6,292.54 327.86,293.54 328.12,288.54 328.38,289.84 328.64,285.12 328.9,289.81 329.16,287.27 329.42,295.83 329.68,295.72 329.94,302.51 330.2,300.92 330.46,305.99 330.72,302.42 330.98,310.72 331.24,312.28 331.5,319.36 331.76,321.72 332.02,330.89 332.28,331.74 332.54,340.59 332.8,342.94 333.06,361.32 333.32,373.76 333.58,394.67 333.84,395.84 334.1,380.06 334.36,356.42 334.62,342.5 334.88,324.16 335.14,319.01 335.4,307.14 335.66,307.32 335.92,298.73 336.18,297.47 336.44,291.26 336.7,292.25 336.96,285.55 337.22,289.35 337.48,286.61 337.74,290.86 338,290.87 338.26,298.45 338.52,298.36 338.78,304.1 339.04,300.32 339.3,305.86 339.56,306.22 339.82,315.2 340.08,316.17 340.34,324.04 340.6,327.05 340.86,336.19 341.12,337.22 341.38,344.21 341.64,357.64 341.9,381.24 342.16,395.72 342.42,416.88 342.68,388.04 342.94,367.91 343.2,341.42 343.46,331.35 343.72,318.06 343.98,313.27 344.24,304.9 344.5,304.14 344.76,296 345.02,295.87 345.28,288.24 345.54,290.8 345.8,285.77 346.06,290.32 346.32,288.75 346.58,293.64 346.84,293.69 347.1,301.05 347.36,300.93 347.62,304.87 347.88,302.37 348.14,309.59 348.4,309.84 348.66,317.91 348.92,319.32 349.18,328.79 349.44,330.4 349.7,338.92 349.96,339.55 350.22,356.02 350.48,366.49 350.74,385.61 351,397.18 351.26,388.29 351.52,364.76 351.78,350.04 352.04,332.11 352.3,324.17 352.56,311.74 352.82,309.5 353.08,299.65 353.34,300.8 353.6,293.59 353.86,294.66 354.12,288.27 354.38,290.31 354.64,286.01 354.9,292.53 355.16,291.01 355.42,298.27 355.68,296.85 355.94,303.75 356.2,301.83 356.46,307.78 356.72,303.49 356.98,313.16 357.24,314.2 357.5,324.08 357.76,325.64 358.02,333.04 358.28,335.06 358.54,343.86 358.8,350.08 359.06,368.73 359.32,383.05 359.58,402.59 359.84,394.08 360.1,375.52 360.36,352.17 360.62,338.55 360.88,323.62 361.14,319.18 361.4,307.62 361.66,305.45 361.92,297.86 362.18,299.08 362.44,291.23 362.7,291.93 362.96,286.93 363.22,290.92 363.48,287.22 363.74,294.56 364,293.15 364.26,300.33 364.52,300.72 364.78,304.7 365.04,302.39 365.3,308.47 365.56,309.04 365.82,316.44 366.08,318.89 366.34,328.35 366.6,329.95 366.86,337.45 367.12,339.46 367.38,349.1 367.64,360.02 367.9,379.5 368.16,390.96 368.42,398.56 368.68,373.97 368.94,358.87 369.2,339.35 369.46,329.25 369.72,318.25 369.98,313.83 370.24,303.73 370.5,303.27 370.76,295.32 371.02,296.57 371.28,290.84 371.54,292.62 371.8,286.53 372.06,292.83 372.32,289.26 372.58,298.19 372.84,296.92 373.1,303.94 373.36,303.17 373.62,307.27 373.88,305.58 374.14,311.4 374.4,312.35 374.66,320.87 374.92,324.2 375.18,333.13 375.44,334.02 375.7,342.66 375.96,342.97 376.22,362.32 376.48,375.77 376.74,395.85 377,404.33 377.26,387.21 377.52,361.38 377.78,347.31 378.04,328.35 378.3,323.03 378.56,312.02 378.82,311.01 379.08,300.69 379.34,301.9 379.6,293.84 379.86,294.88 380.12,290.14 380.38,290.83 380.64,288.03 380.9,293.91 381.16,292.42 381.42,299.59 381.68,299.53 381.94,306.6 382.2,304.96 382.46,309.62 382.72,307.55 382.98,317.04 383.24,317.07 383.5,327.23 383.76,327.83 384.02,337.51 384.28,337.62 384.54,347.18 384.8,352 385.06,366.17 385.32,371.67 385.58,385.06 385.84,370.65 386.1,363.35 386.36,346.93 386.62,336 386.88,322.51 387.14,318.63 387.4,307.71 387.66,306.54 387.92,298.73 388.18,300.27 388.44,291.89 388.7,295.3 388.96,288.67 389.22,293.32 389.48,290.1 389.74,296.85 390,296.36 390.26,304.67 390.52,302.52 390.78,307.6 391.04,306.22 391.3,312.49 391.56,311.81 391.82,320.3 392.08,322.5 392.34,332.48 392.6,332.61 392.86,342.23 393.12,343.84 393.38,353.7 393.64,361.81 393.9,374.65 394.16,383.18 394.42,381.15 394.68,363.21 394.94,354.24 395.2,336.18 395.46,328.5 395.72,317.83 395.98,314.3 396.24,305.02 396.5,304.14 396.76,296.54 397.02,298.02 397.28,291.81 397.54,293.88 397.8,289.49 398.06,294.29 398.32,293.98 398.58,300.91 398.84,299.92 399.1,307.53 399.36,305.87 399.62,309.83 399.88,306.63 400.14,316.93 400.4,316.13 400.66,324.98 400.92,328.34 401.18,336.2 401.44,337.27 401.7,345.98 401.96,350.7 402.22,369.79 402.48,382.34 402.74,403.65 403,399.07 403.26,382.29 403.52,359.65 403.78,345.96 404.04,329.24 404.3,324.63 404.56,312.3 404.82,310.75 405.08,303.57 405.34,303.86 405.6,296.82 405.86,298.54 406.12,292.81 406.38,293.76 406.64,291.83 406.9,297.14 407.16,296.14 407.42,304.31 407.68,304.89 407.94,309.02 408.2,307.09 408.46,313.24 408.72,312.71 408.98,320.62 409.24,321.78 409.5,331.61 409.76,332.37 410.02,341.62 410.28,343.07 410.54,352.25 410.8,359.22 411.06,376.37 411.32,384.55 411.58,395.62 411.84,376.03 412.1,365.8 412.36,345.68 412.62,336.54 412.88,324.43 413.14,319.99 413.4,309.59 413.66,309.33 413.92,301.46 414.18,301.2 414.44,294.71 414.7,297.6 414.96,291.59 415.22,296.33 415.48,294.41 415.74,301.18 416,300.55 416.26,307.46 416.52,307.65 416.78,311.53 417.04,309.79 417.3,317.15 417.56,318.23 417.82,326.06 418.08,328.46 418.34,336.59 418.6,338.77 418.86,346.27 419.12,347.84 419.38,356.26 419.64,358.11 419.9,366.84 420.16,368.34 420.42,366.95 420.68,356.64 420.94,355.12 421.2,337.36 421.46,331.53 421.72,319.44 421.98,315.3 422.24,308.22 422.5,308.1 422.76,300.69 423.02,300.58 423.28,294.96 423.54,296.43 423.8,293.95 424.06,299.3 424.32,299.09 424.58,306.37 424.84,305.32 425.1,311.3 425.36,308.78 425.62,315.21 425.88,313.22 426.14,320.5 426.4,321.13 426.66,331.26 426.92,332.88 427.18,342.23 427.44,342.56 427.7,351.74 427.96,354.22 428.22,367.22 428.48,372.84 428.74,384.7 429,373.95 429.26,367.76 429.52,353.09 429.78,342.82 430.04,328.25 430.3,324.21 430.56,314.1 430.82,312.3 431.08,304.89 431.34,304.66 431.6,298.12 431.86,299.7 432.12,295.02 432.38,297.14 432.64,295.5 432.9,302.5 433.16,301.08 433.42,308.4 433.68,306.81 433.94,313.56 434.2,309.92 434.46,315.9 434.72,316.21 434.98,324.4 435.24,327.14 435.5,334.8 435.76,338.14 436.02,346.45 436.28,346.79 436.54,357.94 436.8,369.48 437.06,389.38 437.32,401.24 437.58,401.54 437.84,378.09 438.1,362.19 438.36,343.33 438.62,334.08 438.88,322.09 439.14,318.57 439.4,308.59 439.66,308.16 439.92,301.24 440.18,301.75 440.44,295.31 440.7,298.43 440.96,292.47 441.22,299.37 441.48,296.14 441.74,303.02 442,303.18 442.26,311.18 442.52,307.79 442.78,314.55 443.04,311.28 443.3,317.89 443.56,319.25 443.82,328.24 444.08,329.92 444.34,338.67 444.6,341.19 444.86,349.81 445.12,351.62 445.38,365.26 445.64,373.44 445.9,388.71 446.16,387.61 446.42,379.48 446.68,362.33 446.94,354.18 447.2,336.18 447.46,331.71 447.72,320.09 447.98,318.24 448.24,310.1 448.5,308.72 448.76,301.35 449.02,303.23 449.28,296.94 449.54,300.45 449.8,297.36 450.06,303.68 450.32,301.51 450.58,309.19 450.84,308.27 451.1,314.99 451.36,313.67 451.62,318.98 451.88,318.16 452.14,325.9 452.4,326.23 452.66,335.83 452.92,337.38 453.18,347.4 453.44,347.51 453.7,355.82 453.96,364.76 454.22,383.73 454.48,394.24 454.74,410.83 455,387.6 455.26,374.68 455.52,353.07 455.78,345.28 456.04,331.69 456.3,327.16 456.56,315.91 456.82,316.53 457.08,309.09 457.34,308.41 457.6,301.71 457.86,303.67 458.12,298.46 458.38,302.06 458.64,301.6 458.9,306.97 459.16,306.86 459.42,314.22 459.68,311.81 459.94,317.18 460.2,315.82 460.46,322.55 460.72,321.9 460.98,330.41 461.24,332.39 461.5,341.27 461.76,342.73 462.02,351.87 462.28,352.97 462.54,367.58 462.8,377.83 463.06,395.63 463.32,407.24 463.58,398.32 463.84,377.09 464.1,363.56 464.36,345.4 464.62,338.77 464.88,326.28 465.14,324.98 465.4,314.92 465.66,315.17 465.92,307.3 466.18,308.29 466.44,302.65 466.7,304.03 466.96,300.58 467.22,305.59 467.48,304.41 467.74,312.65 468,310.73 468.26,318.99 468.52,316.44 468.78,320.13 469.04,319.4 469.3,327.57 469.56,329.02 469.82,336.59 470.08,337.93 470.34,348.03 470.6,350.31 470.86,358.05 471.12,365.08 471.38,391.2 471.64,410.38 471.9,436.21 472.16,425.44 472.42,400.94 472.68,367.63 472.94,352.28 473.2,337.12 473.46,333.73 473.72,321.55 473.98,319.95 474.24,313.52 474.5,312.81 474.76,306.31 475.02,308.11 475.28,301.64 475.54,304.43 475.8,301.89 476.06,307.94 476.32,307.75 476.58,315.1 476.84,315.45 477.1,320.68 477.36,317.08 477.62,322.14 477.88,323.17 478.14,331.26 478.4,331.95 478.66,342.59 478.92,342.84 479.18,353.38 479.44,353.02 479.7,361.42 479.96,359.06 480.22,365.26 480.48,362.95 480.74,368.4 481,361.79 481.26,362.8 481.52,352.84 481.78,343.91 482.04,331.19 482.3,326.6 482.56,319.05 482.82,318.06 483.08,309.66 483.34,310.13 483.6,303.65 483.86,307.59 484.12,301.99 484.38,307.07 484.64,304.7 484.9,310.78 485.16,311.55 485.42,318.02 485.68,317.41 485.94,322.08 486.2,319.22 486.46,326.1 486.72,326.46 486.98,337.09 487.24,337.73 487.5,346.61 487.76,348.18 488.02,356.83 488.28,357.02 488.54,374.99 488.8,386.69 489.06,403.69 489.32,411.93 489.58,396.94 489.84,375.67 490.1,364.03 490.36,345.98 490.62,341.86 490.88,328.61 491.14,327.6 491.4,319.13 491.66,318.26 491.92,310.92 492.18,313.08 492.44,307.11 492.7,308.65 492.96,306.34 493.22,310.91 493.48,310.3 493.74,318.52 494,316.16 494.26,323.69 494.52,322 494.78,325.8 495.04,324.65 495.3,334.51 495.56,335.23 495.82,344.55 496.08,344.6 496.34,353.9 496.6,354.73 496.86,364.42 497.12,370.82 497.38,389.91 497.64,399.73 497.9,419.4 498.16,400.07 498.42,387.35 498.68,366.89 498.94,357.67 499.2,342.87 499.46,337.88 499.72,328.65 499.98,326.4 500.24,318.93 500.5,318.75 500.76,312.51 501.02,314.69 501.28,308.98 501.54,313.45 501.8,310.53 502.06,316.76 502.32,315.94 502.58,323.87 502.84,322.9 503.1,327.36 503.36,324.5 503.62,330.59 503.88,332.34 504.14,340.91 504.4,341.25 504.66,351.11 504.92,353.88 505.18,362.32 505.44,361.75 505.7,373.79 505.96,379.15 506.22,394.14 506.48,400.39 506.74,399.3 507,383.99 507.26,377.02 507.52,359.65 507.78,352.18 508.04,339.17 508.3,335.88 508.56,328.24 508.82,327.47 509.08,319.86 509.34,320.06 509.6,314.88 509.86,315.33 510.12,312.76 510.38,317.69 510.64,316.55 510.9,322.4 511.16,322.14 511.42,329.2 511.68,327.18 511.94,332.22 512.2,329.27 512.46,337.99 512.72,339.46 512.98,349.12 513.24,350.33 513.5,359.3 513.76,359.9 514.02,368.48 514.28,371.72 514.54,392.61 514.8,404.31 515.06,424.29 515.32,422.75 515.58,408.81 515.84,385.28 516.1,373.86 516.36,357.89 516.62,353.57 516.88,341.02 517.14,341.18 517.4,331.58 517.66,332.82 517.92,324.64 518.18,325.64 518.44,320.96 518.7,324 518.96,321.62 519.22,326.51 519.48,326.46 519.74,333.64 520,334.09 520.26,339.35 520.52,335.83 520.78,340.96 521.04,341.81 521.3,349.23 521.56,351.2 521.82,361.35 522.08,362.15 522.34,371.97 522.6,372.56 522.86,380.03 523.12,396.26 523.38,419.11 523.64,437.05 523.9,453.81 524.16,437.71 524.42,429.54 524.68,413.3 524.94,402.63 525.2,389.59 525.46,386.35 525.72,377.68 525.98,375.91 526.24,369.38 526.5,367.92 526.76,362.21 527.02,363.63 527.28,359.33 527.54,363.04 527.8,362.41 528.06,368.54 528.32,368.72 528.58,374.97 528.84,373.91 529.1,378.4 529.36,377.27 529.62,382.54 529.88,383.17 530.14,392.53 530.4,394.48 530.66,404.29 530.92,404.65 531.18,414.3 531.44,413.88 531.7,428.26 531.96,435.98 532.22,450.76 532.48,458.11 532.74,459.09 533,451.26 533.26,451.25" stroke="#2072b8" stroke-width="1.55"/><polyline points="85.7,445.02 86.14,452.84 86.59,442.35 87,452.96 87.4,440.68 87.79,453.68 88.2,439.3 88.62,451.75 89.01,440.62 89.42,455.91 89.87,442.02 90.25,453.26 90.69,440.9 91.05,450.34 91.48,437.27 91.85,447.74 92.2,441.32 92.6,454.7 92.97,441.99 93.42,456.55 93.87,448.23 94.32,448.44 94.78,434.41 95.23,451.02 95.62,444.86 96.05,448.64 96.45,440.46 96.8,448.7 97.24,440.88 97.66,456.22 98.08,431.05 98.45,451.81 98.79,437.71 99.2,453.48 99.55,443.04 99.93,449.31 100.28,439.31 100.62,448.45 101.01,438.81 101.45,453.98 101.82,420.27 102.19,452.74 102.63,431.08 103.09,458.28 103.47,437.68 103.87,443.19 104.26,426.04 104.71,457.46 105.06,422.49 105.52,447.69 105.94,430.75 106.38,447.5 106.83,426.65 107.22,449.29 107.58,429.45 107.96,458.8 108.38,424.62 108.72,445.13 109.12,424.03 109.49,442.96 109.94,426.34 110.28,446.11 110.73,436.51 111.17,458.06 111.52,430.38 111.89,450.16 112.25,414.42 112.61,442.78 113.06,423.92 113.48,448.79 113.86,434.31 114.29,449.91 114.66,423.47 115.03,446.46 115.42,416.9 115.81,451.29 116.22,419.66 116.62,447.55 117.07,411.7 117.5,444.66 117.91,413.48 118.25,440.74 118.61,415.25 119,455.2 119.34,390.62 119.78,439.76 120.14,404.13 120.5,451.89 120.89,410.74 121.28,452.87 121.7,415.12 122.07,444.52 122.46,386.61 122.82,427.72 123.28,391.53 123.72,438.81 124.12,393.14 124.51,423.29 124.86,386.55 125.23,352.96 125.61,325.89 125.94,308.36 126.25,299.92 126.52,293.98 126.79,291.84 127.08,289.93 127.37,288.68 127.7,287.38 128,286.76 128.26,286.24 128.52,286.6 128.86,287.28 129.19,288.51 129.47,289.67 129.75,291.4 130.09,294.16 130.35,300.03 130.62,306.21 130.89,320.68 131.19,338.65 131.51,337.11 131.81,394.17 132.12,339.74 132.4,446.13 132.73,341.75 133.06,435.85 134.26,351.45 135.37,454.2 136.62,374.65 137.73,442.53 138.64,377.41 139.45,438.96 140.25,383.72 141.04,438.75 141.53,415.6 141.98,434.97 142.52,403.47 142.95,462.91 143.44,400.07 143.95,446.47 144.44,414 144.89,436.93 145.4,401.94 145.89,457.84 146.41,422 146.85,447.44 147.28,412.72 147.72,434.23 148.27,405.99 148.7,434.02 149.15,417.03 149.65,443.42 150.13,411.69 150.57,442.17 151.04,398.97 151.52,436.26 152.08,424.08 152.52,435.89 153.09,400.62 153.55,436.8 154.09,406.5 154.66,439.4 155.12,413.65 155.57,456.83 156.07,414.75 156.56,434.25 157.12,401.93 157.66,440.92 158.21,420.5 158.65,458.89 159.16,409.52 159.62,442.65 160.14,379.63 160.86,430.77 161.65,370.81 162.52,445.42 163.38,362.76 164.34,442.52 165.36,349.69 166.44,439.64 167.64,336.24 168.66,424.75 168.98,327.85 169.28,363.59 169.54,329.02 169.87,319.74 170.2,302.6 170.53,295.23 170.82,289.93 171.1,288.09 171.43,286.25 171.77,284.88 172.07,284.02 172.34,283.48 172.6,283.36 172.93,284.02 173.19,284.72 173.47,285.82 173.76,287.13 174.06,289.13 174.4,293.55 174.67,299.57 174.96,310.88 175.26,326.48 175.53,339.41 175.84,374.33 176.15,345.49 176.46,432.82 176.73,347.75 177.07,457.08 178.04,348.01 179.04,449.27 180.12,365.12 181.05,428.75 182.02,385.02 183.13,444.64 184.01,382.58 184.85,441.43 185.57,403.83 186.08,431.57 186.52,395.44 187.09,434.28 187.54,398.82 188.07,458.62 188.55,405.95 189.01,445.05 189.55,401.11 190.03,442.69 190.51,405.35 191.09,432.62 191.53,400.61 191.99,436.52 192.48,402.43 193.05,431.27 193.63,411.63 194.2,434.33 194.66,396.29 195.12,438.51 195.66,389.46 196.14,457.23 196.61,400.71 197.13,446.07 197.65,406.73 198.08,444.36 198.65,408.98 199.12,430.16 199.66,397.38 200.09,438.09 200.59,393.26 201.14,430.48 201.59,406.54 202.12,433.71 202.67,395.96 203.11,451.77 203.97,382.06 204.85,440.89 205.68,380.41 206.73,429.69 207.74,357.24 208.79,442.34 209.91,341.93 211.05,455.61 212.01,335.43 212.29,371.12 212.59,330.42 212.94,320.89 213.2,307.17 213.53,296.83 213.87,289.64 214.19,287.52 214.52,285.68 214.84,284.38 215.17,283.42 215.51,282.73 215.78,282.9 216.07,283.5 216.33,284.29 216.66,285.58 216.96,287.19 217.28,289.33 217.57,294.61 217.83,300.2 218.11,312.91 218.45,332 218.78,335.08 219.11,390.45 219.37,338.34 219.68,437.3 220,352.24 220.33,452.05 221.4,349.33 222.44,434.35 223.51,366.38 224.63,434.71 225.77,377.42 226.67,431.69 227.68,389.62 228.52,433.5 229.08,397.97 229.63,430.21 230.13,386.98 230.69,443.43 231.25,389.94 231.75,427.37 232.2,380.72 232.71,436.58 233.18,395.83 233.65,437.04 234.1,390.63 234.6,434.32 235.04,403.45 235.49,427.47 236.04,396.62 236.49,445.75 236.99,395.31 237.48,429.9 238.04,400.05 238.59,440.55 239.03,402.97 239.55,433.16 240.08,394.88 240.57,434.8 241.06,383.2 241.56,441.43 242,382.24 242.5,440.92 243.04,381.76 243.54,432.52 244.06,385.11 244.59,431.71 245.15,402.39 245.66,431.35 246.21,394.22 246.67,439.26 247.5,395.32 248.47,439.5 249.46,365.22 250.4,456.98 251.5,351.8 252.47,451.71 253.64,339.69 254.66,450.02 254.94,338.57 255.21,416.46 255.47,328.64 255.78,359.82 256.06,332.09 256.36,316.68 256.67,300.63 256.94,293.51 257.28,286.56 257.58,284.59 257.85,282.96 258.18,281.63 258.46,280.62 258.75,280.05 259.03,279.61 259.3,280.14 259.63,280.85 259.89,281.9 260.22,283.28 260.48,284.97 260.79,287.74 261.08,293.94 261.41,304.74 261.7,319.98 261.98,337.2 262.25,362.29 262.56,338.22 262.89,424.72 263.22,340.51 263.55,438.62 264.58,351.76 265.64,450.37 266.68,362.18 267.72,435.84 268.81,375.35 269.65,445.66 270.63,387.27 271.52,433.73 271.99,402.46 272.41,437.62 272.97,394.52 273.47,443.7 273.98,402.81 274.47,437.01 275,410.43 275.47,441.88 275.95,411.43 276.42,437 276.95,402.25 277.41,444.25 277.96,389.3 278.46,430.89 279.02,398.71 279.51,443.65 280.04,411.22 280.54,448.35 281.09,389.44 281.61,433.27 282.05,402.66 282.61,442.25 283.08,398.14 283.64,440.38 284.15,406 284.64,433.71 285.17,396.68 285.64,432.58 286.08,397.83 286.55,431.07 287.12,394.57 287.61,460.01 288.13,389.71 288.65,431.73 289.14,411.58 289.65,437.73 290.13,376.53 290.91,447.06 291.81,378.3 292.83,440.51 293.84,365.63 295.03,450.15 296.23,342.56 297.4,450.79 298.56,330.33 298.89,360.08 299.16,329.86 299.47,314.09 299.8,296.77 300.12,286.82 300.46,279.48 300.75,277.55 301.06,275.69 301.35,274.51 301.69,273.34 302,272.72 302.29,272.49 302.56,273.04 302.84,273.69 303.1,274.74 303.45,276.24 303.75,278.25 304.03,281.3 304.3,287.17 304.62,297.93 304.9,312.42 305.24,335.93 305.57,366.32 305.87,338.76 306.22,426.36 306.51,350.37 306.78,448.03 307.78,364.99 308.78,427.99 309.72,361.65 310.82,430.5 311.97,374.58 313.03,449.3 314.03,391.2 314.93,436.9 315.48,401.17 315.91,448.52 316.45,401.61 316.88,450.45 317.45,386.26 317.92,433.74 318.4,390.34 318.96,425.27 319.51,394.72 320.05,434.41 320.6,405.12 321.13,426.11 321.65,399.3 322.15,429.2 322.68,399.78 323.1,430.21 323.64,401.4 324.21,424.92 324.7,383.67 325.26,429.59 325.74,390.01 326.23,424.89 326.74,397.32 327.17,449.96 327.7,397.56 328.23,428.26 328.67,401.64 329.2,454.44 329.72,383.26 330.17,450.81 330.71,392.56 331.18,443.22 331.62,402.02 332.12,437.41 332.68,392.18 333.19,426.61 333.72,377.18 334.45,469.77 335.42,370.49 336.34,454.27 337.46,358.6 338.45,446.97 339.61,351.44 340.52,457.32 341.5,333.2 341.81,417.3 342.09,337.27 342.35,364.1 342.63,329.03 342.95,315.04 343.23,300.61 343.55,288.26 343.86,281.62 344.19,277.99 344.49,275.98 344.75,274.93 345.03,273.79 345.36,273 345.7,272.32 345.98,272.87 346.26,273.45 346.56,274.58 346.9,275.94 347.22,278 347.52,280.98 347.78,286.73 348.11,297.1 348.44,314.6 348.76,334.04 349.09,368.08 349.39,340.18 349.69,424.41 349.98,346.57 350.26,430.4 351.29,349.2 352.25,438.95 353.39,362.74 354.51,451.11 355.66,376.89 356.65,440.49 357.52,386.89 358.35,429.83 358.78,389.7 359.24,435.05 359.75,375.91 360.33,424.75 360.89,383.38 361.34,446.71 361.84,390.89 362.35,433.05 362.88,378.84 363.39,437.29 363.91,393.46 364.38,434.67 364.9,376.3 365.45,430.66 365.93,397.82 366.43,433.58 366.98,386.15 367.43,452.82 367.97,392.51 368.43,428.41 368.88,393.45 369.42,436.22 369.89,401.25 370.39,435.3 370.88,388.32 371.38,435.31 371.81,397.84 372.27,433.29 372.71,391.13 373.25,436.91 373.79,379.97 374.22,431.78 374.73,399.01 375.16,453.84 375.65,396.19 376.19,446.32 376.73,383.36 377.62,433.22 378.42,379.2 379.26,433.87 380.17,361.92 381.22,452.54 382.43,349.49 383.66,455.96 384.61,335.29 384.88,434.51 385.16,330.64 385.42,388.2 385.75,330.27 386.02,331.75 386.28,314.37 386.6,297.4 386.94,286.93 387.24,280.41 387.58,278.01 387.91,276.07 388.24,274.75 388.57,273.79 388.82,273.27 389.12,273.16 389.39,273.71 389.71,274.55 390,275.74 390.33,277.37 390.63,279.33 390.96,284.64 391.24,290.8 391.53,304.12 391.8,318.9 392.1,341.98 392.38,338.76 392.71,402.12 393.01,339.5 393.34,449.77 393.61,350.02 394.58,452.54 395.65,356.66 396.8,450.11 397.93,373.97 398.85,431.76 399.97,382.42 400.95,452.67 401.68,398.53 402.2,450.78 402.72,382.35 403.3,452.04 403.86,397.66 404.36,425.44 404.8,398.53 405.37,430 405.88,398.48 406.35,446.07 406.84,386.16 407.27,436.12 407.71,391.94 408.24,433.6 408.75,404.01 409.32,431.77 409.84,383.95 410.28,449.13 410.82,404.81 411.27,428.35 411.76,391.64 412.29,441.5 412.74,390.91 413.31,433.76 413.79,393.77 414.33,427.8 414.89,392.72 415.35,432.61 415.84,402.1 416.34,428.11 416.77,392.52 417.25,445.48 417.78,379.13 418.23,425.43 418.68,389.51 419.19,452.46 419.63,381.32 420.33,435.58 421.22,370.66 422.05,453.68 423.06,360.44 424.05,427.76 425.09,347.75 426.02,439.31 427.01,337.48 428.02,412.42 428.34,332.83 428.64,350.44 428.96,324.56 429.23,309.48 429.51,294.94 429.78,289.04 430.06,283.06 430.37,281.08 430.65,279.34 430.95,278.13 431.22,277.09 431.54,276.45 431.8,275.93 432.12,276.58 432.43,277.25 432.77,278.63 433.03,279.72 433.37,281.98 433.64,285.23 433.9,290.88 434.2,300.54 434.49,315.58 434.77,333.78 435.09,361.97 435.38,334.97 435.64,417.35 435.9,345.41 436.21,445.28 436.55,357.65 437.54,431.07 438.7,362.09 439.71,448.77 440.82,373.64 441.94,450.22 442.79,381.45 443.56,448.35 444.33,378.95 444.81,428.81 445.38,385.84 445.84,432.4 446.35,389.5 446.91,424.11 447.48,391.36 447.95,421.78 448.38,391.3 448.83,443.02 449.39,395.07 449.96,436.98 450.46,379.84 450.89,431.81 451.43,379.29 451.98,423.53 452.53,400.6 453.1,425.56 453.59,390.64 454.13,446.6 454.58,382.04 455.07,426.34 455.51,394.5 456,430.35 456.46,382.76 457,445.51 457.45,394.8 457.92,429.08 458.42,380.52 458.89,435.16 459.45,393.07 459.94,442.54 460.5,392.38 461.07,434.94 461.55,379.67 462.03,442.69 462.91,374.3 463.66,452.51 464.62,369.27 465.54,455.32 466.45,365.96 467.54,437 468.61,342.09 469.78,431.63 470.98,332.46 471.3,358 471.63,329.78 471.95,312.29 472.28,297.58 472.61,290.51 472.87,286.56 473.19,284.46 473.52,282.86 473.83,281.64 474.12,280.89 474.46,280.22 474.72,280.59 475.05,281.24 475.32,282.22 475.59,283.32 475.94,285.31 476.28,287.98 476.54,293.64 476.81,299.89 477.1,314.99 477.36,330.56 477.65,334.88 477.94,380.83 478.23,339.14 478.51,429.68 478.83,339.02 479.15,453.27 480.14,347.71 481.21,455.52 482.28,367.83 483.5,456.93 484.43,379.95 485.31,452.02 486.14,386.98 487.01,424.7 487.51,402.25 487.98,451.67 488.55,402.39 489.1,433.33 489.55,406.41 490.04,428.93 490.53,384.68 491.01,421.74 491.55,397.02 492.12,426.63 492.54,396.6 493.04,451.17 493.6,403.51 494.17,434.51 494.61,385.63 495.07,439.69 495.64,393.85 496.13,431.95 496.63,380.33 497.13,424.96 497.6,380.36 498.15,437.62 498.71,403.1 499.19,437.99 499.68,405.24 500.15,425.33 500.68,402.77 501.19,429.33 501.73,393.18 502.28,444.57 502.81,399.95 503.38,443.9 503.92,395.07 504.35,426.35 504.84,406.23 505.32,445 506.16,375.78 506.97,432.6 507.88,380.75 508.87,451.68 509.78,358.04 510.89,434.55 511.84,358.49 512.76,453.71 513.92,329.85 514.25,362.07 514.6,330.36 514.86,316.55 515.19,299.26 515.51,292.1 515.79,286.52 516.1,284.43 516.38,282.82 516.71,281.52 517.05,280.45 517.38,279.78 517.69,279.92 518,280.54 518.3,281.54 518.62,282.82 518.94,284.75 519.21,286.51 519.55,293.32 519.87,302.58 520.17,318.14 520.49,338.84 520.83,334.76 521.14,401.03 521.47,346.87 521.8,451.65 522.14,343.38 523.32,442.55 524.49,357.75 525.72,430.07 526.89,373.54 527.76,431.92 528.82,383.74 529.7,442.93 530.52,392.5 530.98,442.34 531.46,405.44 531.99,427.58 532.49,404.37 533.03,430.47" stroke="#d62728" stroke-width="1.0"/><polyline points="125,373.45 125.25,350.88 125.5,332.32 125.75,318.51 126,305.43 126.25,299.95 126.5,294.48 126.75,292.07 127,290.43 127.25,289.17 127.5,288.17 127.75,287.27 128,286.76 128.25,286.26 128.5,286.56 128.75,287.06 129,287.77 129.25,288.77 129.5,289.77 129.75,291.42 130,293.06 130.25,297.76 130.5,303.24 130.75,313.28 131,326.37 131.25,342.85 131.5,364.42" stroke="#d62728" stroke-width="1.5"/><polyline points="169.2,370.44 169.45,347.87 169.7,329.31 169.95,315.5 170.2,302.42 170.45,296.94 170.7,291.47 170.95,289.06 171.2,287.42 171.45,286.16 171.7,285.16 171.95,284.26 172.2,283.75 172.45,283.25 172.7,283.55 172.95,284.05 173.2,284.76 173.45,285.76 173.7,286.76 173.95,288.41 174.2,290.05 174.45,294.75 174.7,300.23 174.95,310.27 175.2,323.36 175.45,339.84 175.7,361.41" stroke="#d62728" stroke-width="1.5"/><polyline points="212.3,369.84 212.55,347.27 212.8,328.7 213.05,314.9 213.3,301.81 213.55,296.34 213.8,290.87 214.05,288.46 214.3,286.82 214.55,285.56 214.8,284.56 215.05,283.65 215.3,283.15 215.55,282.65 215.8,282.95 216.05,283.45 216.3,284.16 216.55,285.16 216.8,286.16 217.05,287.8 217.3,289.45 217.55,294.15 217.8,299.62 218.05,309.67 218.3,322.75 218.55,339.24 218.8,360.81" stroke="#d62728" stroke-width="1.5"/><polyline points="255.7,366.83 255.95,344.26 256.2,325.69 256.45,311.89 256.7,298.8 256.95,293.33 257.2,287.86 257.45,285.45 257.7,283.81 257.95,282.55 258.2,281.55 258.45,280.64 258.7,280.14 258.95,279.64 259.2,279.94 259.45,280.44 259.7,281.15 259.95,282.15 260.2,283.15 260.45,284.79 260.7,286.44 260.95,291.14 261.2,296.61 261.45,306.66 261.7,319.74 261.95,336.23 262.2,357.8" stroke="#d62728" stroke-width="1.5"/><polyline points="298.9,359.61 299.15,337.03 299.4,318.47 299.65,304.67 299.9,291.58 300.15,286.11 300.4,280.63 300.65,278.23 300.9,276.58 301.15,275.33 301.4,274.32 301.65,273.42 301.9,272.92 302.15,272.42 302.4,272.72 302.65,273.22 302.9,273.92 303.15,274.92 303.4,275.93 303.65,277.57 303.9,279.21 304.15,283.92 304.4,289.39 304.65,299.43 304.9,312.52 305.15,329 305.4,350.58" stroke="#d62728" stroke-width="1.5"/><polyline points="342.4,359.61 342.65,337.03 342.9,318.47 343.15,304.67 343.4,291.58 343.65,286.11 343.9,280.63 344.15,278.23 344.4,276.58 344.65,275.33 344.9,274.32 345.15,273.42 345.4,272.92 345.65,272.42 345.9,272.72 346.15,273.22 346.4,273.92 346.65,274.92 346.9,275.93 347.15,277.57 347.4,279.21 347.65,283.92 347.9,289.39 348.15,299.43 348.4,312.52 348.65,329 348.9,350.58" stroke="#d62728" stroke-width="1.5"/><polyline points="385.7,360.21 385.95,337.63 386.2,319.07 386.45,305.27 386.7,292.18 386.95,286.71 387.2,281.24 387.45,278.83 387.7,277.19 387.95,275.93 388.2,274.92 388.45,274.02 388.7,273.52 388.95,273.02 389.2,273.32 389.45,273.82 389.7,274.52 389.95,275.53 390.2,276.53 390.45,278.17 390.7,279.81 390.95,284.52 391.2,289.99 391.45,300.03 391.7,313.12 391.95,329.61 392.2,351.18" stroke="#d62728" stroke-width="1.5"/><polyline points="428.5,363.22 428.75,340.64 429,322.08 429.25,308.28 429.5,295.19 429.75,289.72 430,284.25 430.25,281.84 430.5,280.2 430.75,278.94 431,277.93 431.25,277.03 431.5,276.53 431.75,276.03 432,276.33 432.25,276.83 432.5,277.53 432.75,278.54 433,279.54 433.25,281.18 433.5,282.82 433.75,287.53 434,293 434.25,303.04 434.5,316.13 434.75,332.62 435,354.19" stroke="#d62728" stroke-width="1.5"/><polyline points="471.2,367.43 471.45,344.86 471.7,326.3 471.95,312.49 472.2,299.41 472.45,293.93 472.7,288.46 472.95,286.05 473.2,284.41 473.45,283.15 473.7,282.15 473.95,281.25 474.2,280.74 474.45,280.24 474.7,280.54 474.95,281.04 475.2,281.75 475.45,282.75 475.7,283.75 475.95,285.4 476.2,287.04 476.45,291.74 476.7,297.22 476.95,307.26 477.2,320.35 477.45,336.83 477.7,358.4" stroke="#d62728" stroke-width="1.5"/><polyline points="514.2,366.83 514.45,344.25 514.7,325.69 514.95,311.89 515.2,298.8 515.45,293.33 515.7,287.86 515.95,285.45 516.2,283.81 516.45,282.55 516.7,281.55 516.95,280.64 517.2,280.14 517.45,279.64 517.7,279.94 517.95,280.44 518.2,281.15 518.45,282.15 518.7,283.15 518.95,284.79 519.2,286.44 519.45,291.14 519.7,296.61 519.95,306.66 520.2,319.74 520.45,336.23 520.7,357.8" stroke="#d62728" stroke-width="1.5"/></g>
<path d="M107.9 267.5v1.6M107.9 478.2v-1.6M130.3 267.5v1.6M130.3 478.2v-1.6M152.7 267.5v1.6M152.7 478.2v-1.6M175.1 267.5v1.6M175.1 478.2v-1.6M197.5 267.5v1.6M197.5 478.2v-1.6M219.9 267.5v1.6M219.9 478.2v-1.6M242.3 267.5v1.6M242.3 478.2v-1.6M264.7 267.5v1.6M264.7 478.2v-1.6M287.1 267.5v1.6M287.1 478.2v-1.6M309.5 267.5v1.6M309.5 478.2v-1.6M331.9 267.5v1.6M331.9 478.2v-1.6M354.3 267.5v1.6M354.3 478.2v-1.6M376.7 267.5v1.6M376.7 478.2v-1.6M399.1 267.5v1.6M399.1 478.2v-1.6M421.5 267.5v1.6M421.5 478.2v-1.6M443.9 267.5v1.6M443.9 478.2v-1.6M466.3 267.5v1.6M466.3 478.2v-1.6M488.7 267.5v1.6M488.7 478.2v-1.6M511.1 267.5v1.6M511.1 478.2v-1.6M175.1 267.5v2.6M175.1 478.2v-2.6M264.7 267.5v2.6M264.7 478.2v-2.6M354.3 267.5v2.6M354.3 478.2v-2.6M443.9 267.5v2.6M443.9 478.2v-2.6M85.5 273.52h1.6M533.5 273.52h-1.6M85.5 279.54h1.6M533.5 279.54h-1.6M85.5 285.56h1.6M533.5 285.56h-1.6M85.5 291.58h1.6M533.5 291.58h-1.6M85.5 297.6h2.6M533.5 297.6h-2.6M85.5 303.62h1.6M533.5 303.62h-1.6M85.5 309.64h1.6M533.5 309.64h-1.6M85.5 315.66h1.6M533.5 315.66h-1.6M85.5 321.68h1.6M533.5 321.68h-1.6M85.5 327.7h2.6M533.5 327.7h-2.6M85.5 333.72h1.6M533.5 333.72h-1.6M85.5 339.74h1.6M533.5 339.74h-1.6M85.5 345.76h1.6M533.5 345.76h-1.6M85.5 351.78h1.6M533.5 351.78h-1.6M85.5 357.8h2.6M533.5 357.8h-2.6M85.5 363.82h1.6M533.5 363.82h-1.6M85.5 369.84h1.6M533.5 369.84h-1.6M85.5 375.86h1.6M533.5 375.86h-1.6M85.5 381.88h1.6M533.5 381.88h-1.6M85.5 387.9h2.6M533.5 387.9h-2.6M85.5 393.92h1.6M533.5 393.92h-1.6M85.5 399.94h1.6M533.5 399.94h-1.6M85.5 405.96h1.6M533.5 405.96h-1.6M85.5 411.98h1.6M533.5 411.98h-1.6M85.5 418h2.6M533.5 418h-2.6M85.5 424.02h1.6M533.5 424.02h-1.6M85.5 430.04h1.6M533.5 430.04h-1.6M85.5 436.06h1.6M533.5 436.06h-1.6M85.5 442.08h1.6M533.5 442.08h-1.6M85.5 448.1h2.6M533.5 448.1h-2.6M85.5 454.12h1.6M533.5 454.12h-1.6M85.5 460.14h1.6M533.5 460.14h-1.6M85.5 466.16h1.6M533.5 466.16h-1.6M85.5 472.18h1.6M533.5 472.18h-1.6" stroke="#c4c4c4" stroke-width="0.6" fill="none"/>
<rect x="85.5" y="267.5" width="448.0" height="210.7" fill="none" stroke="#a4a4a4" stroke-width="0.9"/>
<text x="83.2" y="272" text-anchor="end" font-size="12.7" fill="#1a1a1a">15</text>
<path d="M61 268.4H68.4" stroke="#1a1a1a" stroke-width="0.7"/>
<text x="83.2" y="302.1" text-anchor="end" font-size="12.7" fill="#1a1a1a">20</text>
<path d="M61 298.5H68.4" stroke="#1a1a1a" stroke-width="0.7"/>
<text x="83.2" y="332.2" text-anchor="end" font-size="12.7" fill="#1a1a1a">25</text>
<path d="M61 328.6H68.4" stroke="#1a1a1a" stroke-width="0.7"/>
<text x="83.2" y="362.3" text-anchor="end" font-size="12.7" fill="#1a1a1a">30</text>
<path d="M61 358.7H68.4" stroke="#1a1a1a" stroke-width="0.7"/>
<text x="83.2" y="392.4" text-anchor="end" font-size="12.7" fill="#1a1a1a">35</text>
<path d="M61 388.8H68.4" stroke="#1a1a1a" stroke-width="0.7"/>
<text x="83.2" y="422.5" text-anchor="end" font-size="12.7" fill="#1a1a1a">40</text>
<path d="M61 418.9H68.4" stroke="#1a1a1a" stroke-width="0.7"/>
<text x="83.2" y="452.6" text-anchor="end" font-size="12.7" fill="#1a1a1a">45</text>
<path d="M61 449H68.4" stroke="#1a1a1a" stroke-width="0.7"/>
<text x="83.2" y="482.7" text-anchor="end" font-size="12.7" fill="#1a1a1a">50</text>
<path d="M61 479.1H68.4" stroke="#1a1a1a" stroke-width="0.7"/>
<text x="84.9" y="488.6" text-anchor="middle" font-size="12.5" fill="#1a1a1a">1500</text>
<text x="174.5" y="488.6" text-anchor="middle" font-size="12.5" fill="#1a1a1a">1520</text>
<text x="264.1" y="488.6" text-anchor="middle" font-size="12.5" fill="#1a1a1a">1540</text>
<text x="353.7" y="488.6" text-anchor="middle" font-size="12.5" fill="#1a1a1a">1560</text>
<text x="443.3" y="488.6" text-anchor="middle" font-size="12.5" fill="#1a1a1a">1580</text>
<text x="532.9" y="488.6" text-anchor="middle" font-size="12.5" fill="#1a1a1a">1600</text>
<text x="309.5" y="502.6" text-anchor="middle" font-size="12.5" fill="#1a1a1a">Wavelength, nm</text>
<text transform="translate(55.2 372.85) rotate(-90)" text-anchor="middle" font-size="12.5" fill="#1a1a1a">Reflection, dBm</text>
<rect x="384.0" y="440.2" width="143.60000000000002" height="33.8" rx="2.5" fill="#fff" fill-opacity="0.88" stroke="#d6d6d6" stroke-width="0.8"/>
<path d="M388 448.5H410" stroke="#1f77b4" stroke-width="1.5"/>
<path d="M388 463.5H410" stroke="#d62728" stroke-width="1.5"/>
<text x="418.3" y="452.1" font-size="10.8" fill="#1a1a1a">Highly-dense FBG array</text>
<text x="418.3" y="467.1" font-size="10.8" fill="#1a1a1a">Sparse FBG array</text>
<path d="M85.5 224.6L324.9 327.6M533.5 224.5L412.3 328.2" stroke="#0dbcf4" stroke-width="1.7" fill="none"/>
<g fill="#1a1a1a"><text x="3.9" y="27.2" font-size="18.5">(</text><text x="9.7" y="27.2" font-size="20" font-weight="bold">a</text><text x="18.8" y="27.2" font-size="18.5">)</text></g>
<g fill="#1a1a1a"><text x="2.8" y="283.1" font-size="18.5">(</text><text x="9.1" y="283.4" font-size="20" font-weight="bold">b</text><text x="19" y="283.1" font-size="18.5">)</text></g>
</svg></body></html>
